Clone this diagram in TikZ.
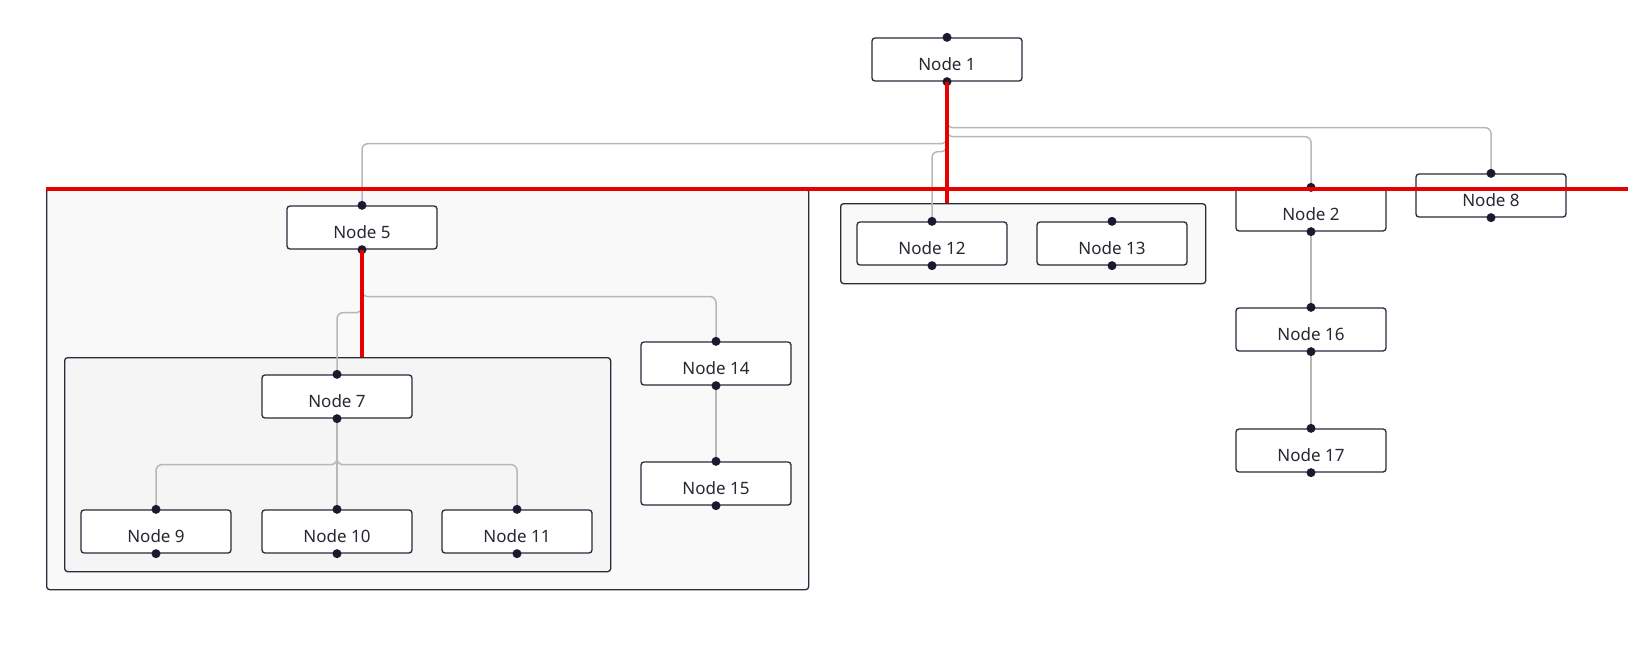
\documentclass[tikz,border=0pt]{standalone}
\usepackage{fontspec}
\setmainfont{Noto Sans}
\definecolor{nodeborder}{RGB}{42,42,58}
\definecolor{dotcol}{RGB}{26,26,46}
\definecolor{linegray}{RGB}{184,184,184}
\definecolor{hlred}{RGB}{232,0,0}
\definecolor{grpfill}{RGB}{249,249,249}
\definecolor{grpfilltwo}{RGB}{245,245,245}
\definecolor{textcol}{RGB}{40,40,50}
\begin{document}
\begin{tikzpicture}[x=1pt,y=-1pt,
  nbox/.style={draw=nodeborder, fill=white, line width=1.3pt, rounded corners=3pt,
    minimum width=150pt, inner sep=0pt, text height=32.5pt, text depth=10.5pt,
    font=\fontsize{17}{20}\selectfont, text=textcol},
  grp/.style={draw=nodeborder, line width=1.3pt, rounded corners=3pt, inner sep=0pt, anchor=north west},
  conn/.style={draw=linegray, line width=1.5pt, rounded corners=6pt},
  hl/.style={draw=hlred, line width=4pt},
  pin/.style={circle, fill=dotcol, inner sep=0pt, minimum size=9pt}
]
\useasboundingbox (0,0) rectangle (1650,666);
% groups
\node[grp, fill=grpfill, minimum width=762pt, minimum height=401pt] (gA) at (46,188) {};
\node[grp, fill=grpfilltwo, minimum width=546pt, minimum height=214pt] (gB) at (64,357) {};
\node[grp, fill=grpfill, minimum width=365pt, minimum height=80pt] (gC) at (840,203) {};
% nodes
\node[nbox] (n1) at (947,59.5) {Node 1};
\node[nbox] (n5) at (362,227.5) {Node 5};
\node[nbox] (n12) at (932,243.5) {Node 12};
\node[nbox] (n13) at (1112,243.5) {Node 13};
\node[nbox] (n2) at (1311,209.5) {Node 2};
\node[nbox] (n8) at (1491,195.5) {Node 8};
\node[nbox] (n16) at (1311,329.5) {Node 16};
\node[nbox] (n17) at (1311,450.5) {Node 17};
\node[nbox] (n14) at (716,363.5) {Node 14};
\node[nbox] (n15) at (716,483.5) {Node 15};
\node[nbox] (n7) at (337,396.5) {Node 7};
\node[nbox] (n9) at (156,531.5) {Node 9};
\node[nbox] (n10) at (337,531.5) {Node 10};
\node[nbox] (n11) at (517,531.5) {Node 11};
% connectors
\draw[conn] (n1.south) -- ++(0,62) -| (n5.north);
\draw[conn] (n1.south) -- ++(0,70) -| (n12.north);
\draw[conn] (n1.south) -- ++(0,55) -| (n2.north);
\draw[conn] (n1.south) -- ++(0,46) -| (n8.north);
\draw[conn] (n5.south) -- ++(0,47) -| (n14.north);
\draw[conn] (n5.south) -- ++(0,63) -| (n7.north);
\draw[conn] (n7.south) -- ++(0,46) -| (n9.north);
\draw[conn] (n7.south) -- (n10.north);
\draw[conn] (n7.south) -- ++(0,46) -| (n11.north);
\draw[conn] (n14.south) -- (n15.north);
\draw[conn] (n2.south) -- (n16.north);
\draw[conn] (n16.south) -- (n17.north);
% pins
\foreach \n in {n1,n5,n12,n13,n2,n8,n16,n17,n14,n15,n7,n9,n10,n11}{
  \node[pin] (\n t) at (\n.north) {};
  \node[pin] (\n b) at (\n.south) {};
}
% highlights
\coordinate (hlL) at (46,189);
\coordinate (hlR) at (1628,189);
\draw[hl] (hlL) -- (hlR);
\draw[hl] (n1.south) -- (n1.south |- gC.north);
\draw[hl] (n5.south) -- (n5.south |- gB.north);
\end{tikzpicture}
\end{document}
